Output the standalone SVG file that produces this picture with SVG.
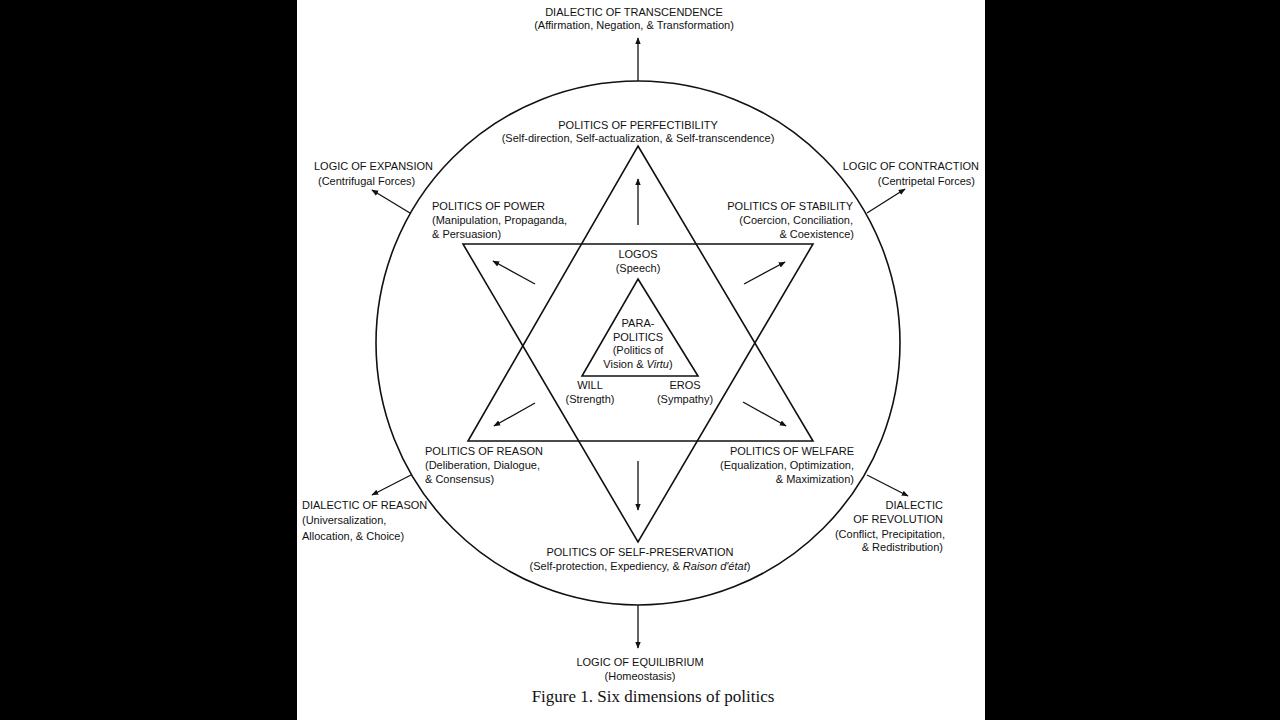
<svg xmlns="http://www.w3.org/2000/svg" width="1280" height="720" viewBox="0 0 1280 720">
<defs>
<marker id="ah" viewBox="0 0 10 10" refX="9" refY="5" markerWidth="7" markerHeight="7" orient="auto" markerUnits="userSpaceOnUse"><path d="M0,1 L10,5 L0,9 Z" fill="#111"/></marker>
<style>
.l{stroke:#111;stroke-width:1.6;fill:none}
.a{stroke:#111;stroke-width:1.3;fill:none;marker-end:url(#ah)}
text{font-family:"Liberation Sans",Arial,sans-serif;font-size:11px;fill:#111}
.c{text-anchor:middle}.r{text-anchor:end}
.cap{font-family:"Liberation Serif","Times New Roman",serif;font-size:17px}
</style>
</defs>
<rect width="1280" height="720" fill="#000"/>
<rect x="297" y="0" width="688" height="720" fill="#fff"/>
<g id="shapes">
<circle class="l" cx="638" cy="343" r="262"/>
<polygon class="l" points="638,146 813,441 468,441"/>
<polygon class="l" points="463,244 813,244 638,542"/>
<polygon class="l" points="638,279 698,376 582,376"/>
</g>
<g id="connectors">
<line class="a" x1="638" y1="81" x2="638" y2="38"/>
<line class="a" x1="410" y1="213" x2="372" y2="190"/>
<line class="a" x1="867" y1="213" x2="905" y2="189"/>
<line class="a" x1="411" y1="475" x2="372" y2="495"/>
<line class="a" x1="867" y1="475" x2="908" y2="496"/>
<line class="a" x1="638" y1="605" x2="638" y2="648"/>
<line class="a" x1="638" y1="225" x2="638" y2="179"/>
<line class="a" x1="535" y1="284" x2="493" y2="261"/>
<line class="a" x1="744" y1="284" x2="785" y2="262"/>
<line class="a" x1="535" y1="403" x2="494" y2="426"/>
<line class="a" x1="743" y1="402" x2="786" y2="426"/>
<line class="a" x1="638" y1="461" x2="638" y2="510"/>
</g>
<g id="transcendence"><text class="c" x="634" y="16">DIALECTIC OF TRANSCENDENCE</text><text class="c" x="634" y="29">(Affirmation, Negation, &amp; Transformation)</text></g>
<g id="perfectibility"><text class="c" x="638" y="129">POLITICS OF PERFECTIBILITY</text><text class="c" x="638" y="142">(Self-direction, Self-actualization, &amp; Self-transcendence)</text></g>
<g id="expansion"><text x="314" y="170">LOGIC OF EXPANSION</text><text x="318" y="185">(Centrifugal Forces)</text></g>
<g id="contraction"><text class="r" x="979" y="170">LOGIC OF CONTRACTION</text><text class="r" x="975" y="185">(Centripetal Forces)</text></g>
<g id="power"><text x="432" y="210">POLITICS OF POWER</text><text x="432" y="224">(Manipulation, Propaganda,</text><text x="432" y="238">&amp; Persuasion)</text></g>
<g id="stability"><text class="r" x="853" y="210">POLITICS OF STABILITY</text><text class="r" x="853" y="224">(Coercion, Conciliation,</text><text class="r" x="854" y="238">&amp; Coexistence)</text></g>
<g id="logos"><text class="c" x="638" y="258">LOGOS</text><text class="c" x="638" y="272">(Speech)</text></g>
<g id="para"><text class="c" x="638" y="327">PARA-</text><text class="c" x="638" y="341">POLITICS</text><text class="c" x="638" y="354">(Politics of</text><text class="c" x="638" y="368">Vision &amp; <tspan font-style="italic">Virtu</tspan>)</text></g>
<g id="will"><text class="c" x="590" y="389">WILL</text><text class="c" x="590" y="403">(Strength)</text></g>
<g id="eros"><text class="c" x="685" y="389">EROS</text><text class="c" x="685" y="403">(Sympathy)</text></g>
<g id="reason"><text x="425" y="455">POLITICS OF REASON</text><text x="425" y="469">(Deliberation, Dialogue,</text><text x="425" y="483">&amp; Consensus)</text></g>
<g id="welfare"><text class="r" x="854" y="455">POLITICS OF WELFARE</text><text class="r" x="854" y="469">(Equalization, Optimization,</text><text class="r" x="854" y="483">&amp; Maximization)</text></g>
<g id="dreason"><text x="302" y="509">DIALECTIC OF REASON</text><text x="302" y="524">(Universalization,</text><text x="302" y="540">Allocation, &amp; Choice)</text></g>
<g id="revolution"><text class="r" x="943" y="509">DIALECTIC</text><text class="r" x="943" y="523">OF REVOLUTION</text><text class="r" x="945" y="538">(Conflict, Precipitation,</text><text class="r" x="943" y="551">&amp; Redistribution)</text></g>
<g id="selfpres"><text class="c" x="640" y="556">POLITICS OF SELF-PRESERVATION</text><text class="c" x="640" y="570">(Self-protection, Expediency, &amp; <tspan font-style="italic">Raison d'état</tspan>)</text></g>
<g id="equilibrium"><text class="c" x="640" y="666">LOGIC OF EQUILIBRIUM</text><text class="c" x="640" y="680">(Homeostasis)</text></g>
<text class="cap" x="653" y="702" text-anchor="middle">Figure 1. Six dimensions of politics</text>
</svg>
